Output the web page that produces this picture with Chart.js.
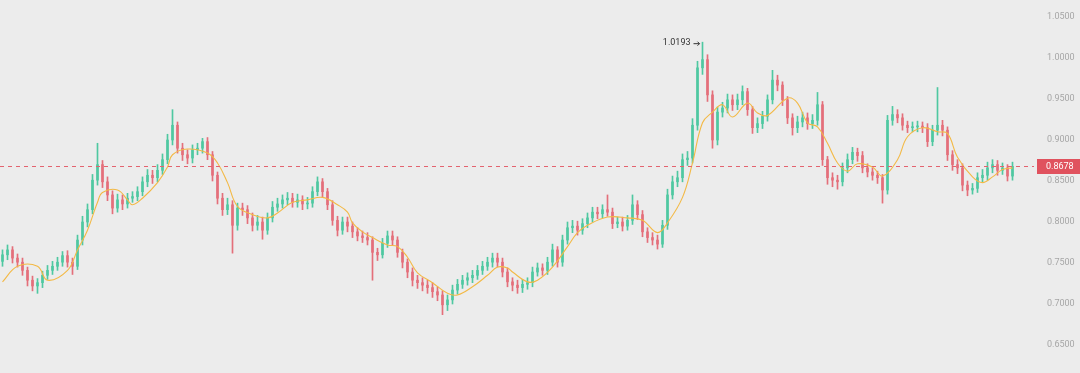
<!DOCTYPE html>
<html>
<head>
<meta charset="utf-8">
<script src="https://cdn.jsdelivr.net/npm/chart.js@4"></script>
<style>
  html, body { margin: 0; padding: 0; background: #ececec; }
  canvas { display: block; }
</style>
</head>
<body>
<canvas id="chart" width="1080" height="373"></canvas>
<script>
// OHLC values, one candle per ~5px
var opens = [.752,.760,.766,.756,.751,.741,.729,.722,.726,.735,.741,.746,.751,.759,.751,.746,.778,.800,.815,.851,
  .870,.849,.833,.817,.827,.822,.829,.831,.837,.849,.857,.854,.863,.876,.900,.918,.890,.882,.878,.888,
  .890,.898,.882,.857,.829,.815,.821,.796,.817,.815,.805,.796,.800,.790,.805,.818,.822,.827,.829,.824,
  .827,.822,.823,.837,.849,.837,.821,.802,.790,.800,.795,.788,.783,.781,.778,.763,.760,.774,.783,.778,
  .763,.751,.739,.729,.726,.723,.720,.715,.711,.699,.705,.717,.724,.729,.732,.735,.741,.746,.751,.756,
  .751,.739,.727,.723,.720,.724,.726,.739,.744,.741,.751,.766,.751,.778,.793,.795,.790,.798,.805,.812,
  .810,.815,.812,.798,.800,.795,.802,.821,.809,.788,.781,.778,.773,.796,.833,.849,.854,.876,.878,.918,
  .988,.998,.955,.900,.934,.939,.949,.943,.949,.959,.937,.915,.920,.929,.949,.973,.967,.949,.927,.915,
  .922,.927,.920,.924,.943,.876,.854,.851,.849,.866,.876,.885,.881,.866,.861,.857,.854,.839,.924,.931,
  .927,.918,.915,.916,.917,.915,.898,.912,.918,.912,.882,.870,.866,.845,.839,.841,.854,.857,.866,.870,
  .863,.866,.856];
var highs = [.766,.772,.770,.761,.756,.745,.734,.731,.740,.747,.752,.757,.764,.765,.756,.784,.807,.822,.858,.896,
  .875,.855,.838,.834,.833,.835,.837,.843,.855,.864,.863,.870,.883,.907,.937,.922,.896,.888,.894,.896,
  .902,.903,.886,.861,.835,.829,.826,.823,.823,.820,.811,.808,.806,.811,.825,.829,.833,.836,.835,.834,
  .832,.830,.843,.855,.853,.841,.826,.807,.806,.806,.800,.793,.789,.787,.782,.768,.780,.789,.789,.782,
  .767,.755,.744,.735,.732,.729,.726,.721,.716,.711,.723,.730,.735,.738,.741,.747,.752,.757,.762,.762,
  .756,.744,.732,.729,.730,.732,.745,.750,.749,.757,.773,.770,.784,.800,.802,.801,.804,.811,.818,.818,
  .821,.833,.817,.806,.806,.808,.833,.826,.814,.793,.787,.784,.802,.840,.856,.862,.883,.886,.926,.996,
  1.0193,1.004,.960,.940,.946,.956,.955,.956,.966,.963,.941,.927,.935,.955,.985,.979,.971,.953,.932,.929,
  .934,.933,.931,.958,.947,.880,.860,.857,.872,.883,.891,.890,.886,.871,.866,.862,.858,.930,.941,.937,
  .932,.923,.922,.923,.922,.920,.918,.964,.924,.916,.887,.876,.871,.850,.847,.860,.864,.873,.876,.875,
  .872,.870,.873];
var lows = [.746,.754,.750,.745,.735,.722,.716,.713,.720,.730,.736,.741,.746,.745,.736,.742,.772,.794,.810,.845,
  .842,.826,.810,.812,.815,.817,.824,.826,.832,.843,.847,.849,.858,.871,.894,.884,.875,.871,.872,.882,
  .884,.876,.850,.822,.808,.809,.762,.790,.808,.798,.789,.790,.779,.785,.800,.813,.817,.821,.818,.818,
  .815,.816,.818,.832,.830,.815,.796,.783,.785,.788,.781,.777,.775,.772,.729,.753,.756,.769,.772,.757,
  .744,.732,.722,.719,.716,.713,.708,.704,.687,.692,.700,.712,.719,.723,.726,.730,.736,.741,.745,.745,
  .733,.721,.716,.713,.714,.718,.721,.734,.735,.736,.746,.745,.746,.773,.787,.784,.785,.793,.800,.804,
  .805,.807,.792,.793,.789,.790,.797,.803,.782,.775,.772,.767,.769,.791,.828,.843,.849,.869,.872,.912,
  .980,.947,.890,.894,.928,.933,.936,.937,.943,.930,.908,.909,.914,.923,.944,.960,.942,.920,.906,.909,
  .916,.913,.914,.918,.869,.846,.843,.840,.844,.860,.871,.874,.860,.855,.851,.847,.823,.834,.918,.921,
  .912,.909,.910,.910,.909,.892,.893,.906,.905,.875,.863,.859,.838,.832,.834,.836,.849,.851,.860,.857,
  .858,.850,.851];
var closes = [.760,.766,.756,.751,.741,.729,.722,.726,.735,.741,.746,.751,.759,.751,.746,.778,.800,.815,.851,.870,
  .849,.833,.817,.827,.822,.829,.831,.837,.849,.857,.854,.863,.876,.900,.918,.890,.882,.878,.888,.890,
  .898,.882,.857,.829,.815,.821,.796,.817,.815,.805,.796,.800,.790,.805,.818,.822,.827,.829,.824,.827,
  .822,.823,.837,.849,.837,.821,.802,.790,.800,.795,.788,.783,.781,.778,.763,.760,.774,.783,.778,.763,
  .751,.739,.729,.726,.723,.720,.715,.711,.699,.705,.717,.724,.729,.732,.735,.741,.746,.751,.756,.751,
  .739,.727,.723,.720,.724,.726,.739,.744,.741,.751,.766,.751,.778,.793,.795,.790,.798,.805,.812,.810,
  .815,.812,.798,.800,.795,.802,.821,.809,.788,.781,.778,.773,.796,.833,.849,.854,.876,.878,.918,.988,
  .998,.955,.900,.934,.939,.949,.943,.949,.959,.937,.915,.920,.929,.949,.973,.967,.949,.927,.915,.922,
  .927,.920,.924,.943,.876,.854,.851,.849,.866,.876,.885,.881,.866,.861,.857,.854,.839,.924,.931,.927,
  .918,.915,.916,.917,.915,.898,.912,.918,.912,.882,.870,.866,.845,.839,.841,.854,.857,.866,.870,.863,
  .866,.856,.8678];

// moving average line, read at selected candles
var maIdx = [0,3,7,9,13,15,17,19,20,23,25,26,28,31,33,34,37,41,43,45,47,50,53,55,58,61,64,67,69,70,
  72,74,77,79,81,83,86,89,91,94,97,99,101,102,105,107,110,113,115,117,121,125,128,131,133,136,138,140,142,144,
  146,149,151,153,157,159,161,163,165,167,169,171,174,176,179,181,184,187,189,191,194,196,198,200,202];
var maVal = [.727,.746,.746,.729,.741,.766,.790,.824,.836,.839,.827,.821,.829,.848,.867,.882,.889,.884,.872,.848,
  .819,.809,.805,.811,.824,.827,.830,.821,.812,.799,.788,.781,.772,.770,.757,.738,.726,.713,.711,.721,
  .735,.745,.744,.739,.727,.729,.745,.770,.787,.796,.806,.805,.802,.787,.799,.830,.872,.921,.934,.943,
  .928,.945,.933,.930,.951,.945,.921,.916,.896,.872,.862,.871,.867,.856,.876,.904,.915,.910,.908,.879,
  .855,.848,.855,.864,.866];

var yTicks = [0.65, 0.70, 0.75, 0.80, 0.85, 0.90, 0.95, 1.00, 1.05];

var upColor = '#4fc8a1';
var downColor = '#e46f7a';
var lastPrice = closes[closes.length - 1];

var candleColors = closes.map(function (c, i) { return c >= opens[i] ? upColor : downColor; });
var wickData = highs.map(function (h, i) { return { x: i, y: [lows[i], h] }; });
var bodyData = closes.map(function (c, i) { return { x: i, y: [opens[i], c] }; });
var maData = maIdx.map(function (ix, k) { return { x: ix, y: maVal[k] }; });

// dashed last-price line, price tag and the high marker
var extras = {
  id: 'extras',
  afterDatasetsDraw: function (chart) {
    var ctx = chart.ctx, area = chart.chartArea;
    var xs = chart.scales.x, ys = chart.scales.y;
    var py = Math.round(ys.getPixelForValue(lastPrice)) + 0.5;
    ctx.save();
    ctx.strokeStyle = '#e3636f';
    ctx.lineWidth = 1;
    ctx.setLineDash([4, 4]);
    ctx.beginPath();
    ctx.moveTo(area.left, py);
    ctx.lineTo(area.right + 19, py);
    ctx.stroke();
    ctx.setLineDash([]);
    ctx.fillStyle = '#e0525e';
    ctx.fillRect(area.right + 22, py - 7.5, chart.width - area.right - 22, 15);
    ctx.fillStyle = '#ffffff';
    ctx.font = '9px Roboto';
    ctx.textBaseline = 'middle';
    ctx.textAlign = 'left';
    ctx.fillText(lastPrice.toFixed(4), area.right + 31, py);

    var top = 0;
    highs.forEach(function (h, i) { if (h > highs[top]) top = i; });
    var hx = xs.getPixelForValue(top), hy = ys.getPixelForValue(highs[top]);
    ctx.fillStyle = '#333333';
    ctx.textAlign = 'right';
    ctx.fillText(highs[top].toFixed(4), hx - 12, hy + 1);
    ctx.strokeStyle = '#333333';
    ctx.beginPath();
    ctx.moveTo(hx - 9, hy + 1.5);
    ctx.lineTo(hx - 3, hy + 1.5);
    ctx.moveTo(hx - 5, hy - 0.5);
    ctx.lineTo(hx - 3, hy + 1.5);
    ctx.lineTo(hx - 5, hy + 3.5);
    ctx.stroke();
    ctx.restore();
  }
};

var ctx = document.getElementById('chart').getContext('2d');
new Chart(ctx, {
  type: 'bar',
  data: {
    datasets: [
      {
        type: 'line', data: maData, borderColor: '#f3b945', borderWidth: 1.1,
        pointRadius: 0, tension: 0.4, order: 0
      },
      {
        data: bodyData, backgroundColor: candleColors, barThickness: 2,
        minBarLength: 1, grouped: false, order: 1
      },
      {
        data: wickData, backgroundColor: candleColors, barThickness: 1,
        grouped: false, order: 2
      }
    ]
  },
  options: {
    responsive: false,
    animation: false,
    layout: { padding: { top: 17, bottom: 28, left: 0, right: 0 } },
    plugins: { legend: { display: false }, tooltip: { enabled: false } },
    scales: {
      x: {
        type: 'linear', min: -0.5, max: closes.length - 0.5, offset: false,
        display: false
      },
      y: {
        position: 'right', min: 0.65, max: 1.05,
        grid: { display: false }, border: { display: false },
        afterBuildTicks: function (axis) { axis.ticks = yTicks.map(function (v) { return { value: v }; }); },
        afterFit: function (axis) {
          axis.width = 65;
          axis.paddingTop = 0;
          axis.paddingBottom = 0;
        },
        ticks: {
          padding: 24, color: '#a6a6a6', font: { family: 'Roboto', size: 9 },
          callback: function (v) { return Number(v).toFixed(4); }
        }
      }
    }
  },
  plugins: [extras]
});
</script>
</body>
</html>
